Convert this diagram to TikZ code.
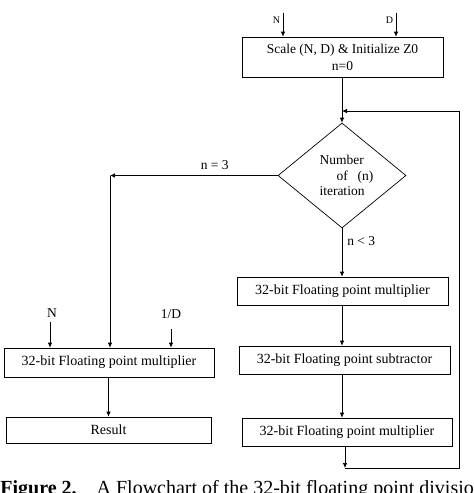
\documentclass[tikz,border=0pt]{standalone}
\usepackage{fontspec}
\setmainfont{Liberation Serif}
\usetikzlibrary{shapes.geometric,arrows.meta}

\begin{document}
\begin{tikzpicture}[x=1pt,y=-1pt,line width=0.7pt,
    blk/.style={rectangle,draw,inner sep=0pt,font=\fontsize{14}{17}\selectfont},
    arr/.style={-{Latex[length=5pt,width=4.5pt]}},
    lbl/.style={font=\fontsize{13.5}{16}\selectfont,inner sep=0pt}]
  \useasboundingbox (0,0) rectangle (474,493);
  % iteration loop on the right
  \node[blk,minimum width=201pt,minimum height=40pt,align=center,font=\fontsize{13.5}{17}\selectfont] (init) at (342.5,57) {Scale (N, D) \& Initialize Z0\\n=0};
  \node[draw,diamond,minimum width=128pt,minimum height=105pt,inner sep=0pt,align=left,font=\fontsize{13.5}{15.5}\selectfont] (iter) at (342,175.5) {\hspace*{9pt}Number\\\hspace*{26pt}of\hspace{10pt}(n)\\\hspace*{9pt}iteration};
  \node[blk,minimum width=211pt,minimum height=28pt] (mulA) at (342.5,291) {32-bit Floating point multiplier};
  \node[blk,minimum width=211pt,minimum height=28pt] (sub) at (344.5,360) {32-bit Floating point subtractor};
  \node[blk,minimum width=210pt,minimum height=28pt] (mulB) at (347,432) {32-bit Floating point multiplier};
  % exit branch on the left
  \node[blk,minimum width=210pt,minimum height=29pt] (mulC) at (109,362.5) {32-bit Floating point multiplier};
  \node[blk,minimum width=205pt,minimum height=26pt] (res) at (108.5,430) {Result};
  \coordinate (inN) at (283,13);\coordinate (inD) at (396,13);
  \coordinate (inN2) at (50,322);\coordinate (inR) at (171,329);
  \coordinate (ex) at (110,175.5);
  \coordinate (lb) at (345,468);\coordinate (rb) at (459,468);\coordinate (rt) at (459,111);
  \node[font=\fontsize{10}{12}\selectfont,inner sep=0pt,anchor=north east] (lN) at (280.5,17) {N};
  \node[font=\fontsize{10}{12}\selectfont,inner sep=0pt,anchor=north east] (lD) at (393.5,17) {D};
  \node[lbl,anchor=south] (lN2) at (52,318) {N};
  \node[lbl,anchor=south] (lR) at (171,318.5) {1/D};
  \draw[arr] (inN)--(inN|-init.north);
  \draw[arr] (inD)--(inD|-init.north);
  \draw[arr] (init.south-|iter.north)--(iter.north);
  \draw[arr] (iter.south)--(mulA.north-|iter.south) node[lbl,pos=0.27,right=5pt] (lt) {n < 3};
  \draw[arr] (mulA.south-|iter.south)--(sub.north-|iter.south);
  \draw[arr] (sub.south-|iter.south)--(mulB.north-|iter.south);
  \draw[arr] (lb|-mulB.south)--(lb);
  \draw (lb)--(rb)--(rt);
  \draw[arr] (rt)--(rt-|iter.north);
  \draw[arr] (iter.west)--(ex) node[lbl,pos=0.375,above=6pt] (eq) {n = 3};
  \draw[arr] (ex)--(ex|-mulC.north);
  \draw[arr] (inN2)--(inN2|-mulC.north);
  \draw[arr] (inR)--(inR|-mulC.north);
  \draw[arr] (mulC.south-|res.north)--(res.north);
  \node[anchor=base west,inner sep=0pt,font=\fontsize{20}{24}\selectfont] (cap) at (0,494) {\textbf{Figure 2.}\hspace{1em}A Flowchart of the 32-bit floating point division};
\end{tikzpicture}
\end{document}
